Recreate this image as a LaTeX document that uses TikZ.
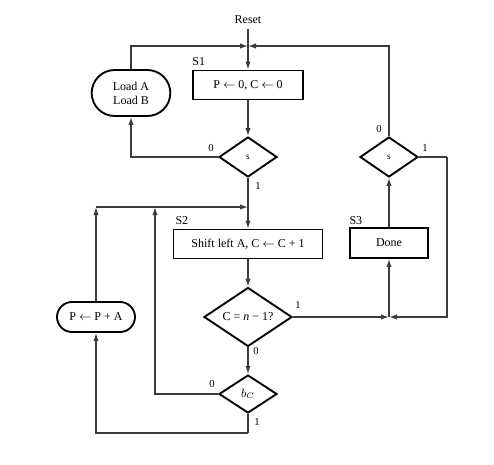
\documentclass[tikz,border=0pt]{standalone}
\usepackage{fontspec}
\setmainfont{Liberation Serif}
\usetikzlibrary{shapes.geometric,shapes.misc,arrows.meta}

\tikzset{every picture/.style={line width=0.75pt}}
\tikzset{
  statebox/.style={draw, line width=1.4pt, rectangle, inner sep=0pt},
  ovalbox/.style={draw, line width=1.4pt, rounded rectangle, inner sep=0pt},
  choice/.style={draw, line width=1.4pt, diamond, inner sep=0pt},
  conn/.style={draw={rgb,255:red,60;green,60;blue,60}, line width=0.9pt},
  flow/.style={conn, -{Latex[length=6pt,width=4pt]}},
  lbl/.style={font=\fontsize{8}{9}\selectfont, inner sep=0pt},
}
\newcommand{\getsto}{\ensuremath{\leftarrow}}

\begin{document}
\begin{tikzpicture}[x=0.75pt,y=0.75pt,yscale=-1,xscale=1,
  every node/.append style={font=\fontsize{9}{10.5}\selectfont}]
\useasboundingbox (0,0) rectangle (494,465);

% Boxes
\node [statebox, minimum width=82.5pt, minimum height=21.75pt] (init) at (248,85) {P \getsto{} 0, C \getsto{} 0};
\node [ovalbox, minimum width=59pt, minimum height=34.5pt, align=center] (load) at (131,93) {Load A\\Load B};
\node [statebox, minimum width=111.75pt, minimum height=21.75pt] (shift) at (248,244) {Shift left A, C \getsto{} C + 1};
\node [ovalbox, minimum width=58.5pt, minimum height=22.5pt] (padd) at (96,317) {P \getsto{} P + A};
\node [statebox, minimum width=58.5pt, minimum height=22.5pt] (done) at (389,243) {Done};

% Decisions
\node [choice, minimum width=43.5pt, minimum height=30pt, font=\fontsize{7}{8}\selectfont] (sone) at (248,157) {s};
\node [choice, minimum width=66pt, minimum height=44pt] (cnt) at (248,317) {C = \textit{n} − 1?};
\node [choice, minimum width=43.5pt, minimum height=28.5pt] (bit) at (248,394) {$b_C$};
\node [choice, minimum width=43.5pt, minimum height=30pt, font=\fontsize{7}{8}\selectfont] (sthree) at (389,157) {s};

% Text Node
\node (reset) at (248,20) {Reset};
\node [anchor=south west, inner sep=0pt] (lsone) at (192,66) {S1};
\node [anchor=south west, inner sep=0pt] (lstwo) at (175,225) {S2};
\node [anchor=south west, inner sep=0pt] (lsthree) at (349,225) {S3};

% Junctions
\coordinate (jtop) at (248,46);
\coordinate (jmid) at (248,207);
\coordinate (jleft) at (96,207);
\coordinate (jbit) at (155,207);
\coordinate (jbot) at (248,433);
\coordinate (jright) at (389,317);
\coordinate (jedge) at (447,157);

% Connectors
\draw [flow] (reset) -- (init);
\draw [flow] (load.north) |- (jtop);
\draw [flow] (sthree.north) |- (jtop);
\draw [flow] (sone.west) -| (load.south);
\draw [flow] (sone.south) -- (shift.north);
\draw [flow] (init.south) -- (sone.north);
\draw [flow] (shift.south) -- (cnt.north);
\draw [flow] (cnt.south) -- (bit.north);
\draw [flow] (padd.north) -- (jleft);
\draw [flow] (jleft) -- (jmid);
\draw [flow] (bit.west) -| (jbit);
\draw [conn] (bit.south) -- (jbot);
\draw [flow] (jbot) -| (padd.south);
\draw [flow] (cnt.east) -- (jright);
\draw [conn] (sthree.east) -- (jedge);
\draw [flow] (jedge) |- (jright);
\draw [flow] (jright) -- (done.south);
\draw [flow] (done.north) -- (sthree.south);

% Branch labels
\node [lbl] (sonezero) at (211,148) {0};
\node [lbl] (soneone) at (258,186) {1};
\node [lbl] (cntone) at (298,305) {1};
\node [lbl] (cntzero) at (256,351) {0};
\node [lbl] (bitzero) at (212,384) {0};
\node [lbl] (bitone) at (257,422) {1};
\node [lbl] (sthreezero) at (379,129) {0};
\node [lbl] (sthreeone) at (425,148) {1};

\end{tikzpicture}
\end{document}
